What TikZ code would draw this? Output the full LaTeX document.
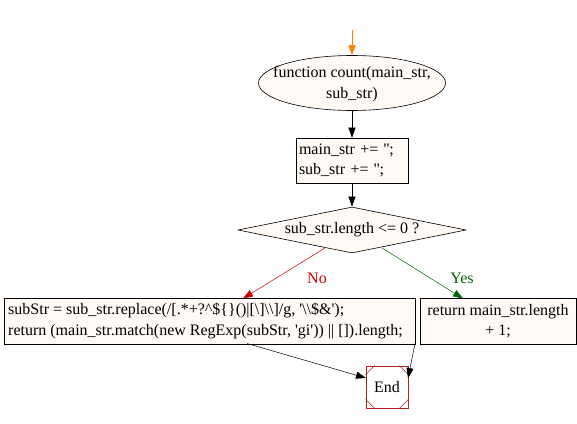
\documentclass[tikz,border=0pt]{standalone}
\usepackage{fontspec}
\setmainfont{Liberation Serif}[Ligatures=TeXOff]
\usetikzlibrary{shapes.geometric,arrows.meta,calc}
\definecolor{fillc}{HTML}{FFFAF5}
\definecolor{endc}{HTML}{B22222}
\definecolor{nored}{HTML}{CC0000}
\definecolor{yesgreen}{HTML}{006400}
\begin{document}
\begin{tikzpicture}[x=1pt,y=-1pt,
  every node/.style={font=\fontsize{16}{20.5}\selectfont, inner sep=0pt},
  arr/.style={-{Triangle[length=10pt,width=7pt]}, line width=0.5pt},
  boxst/.style={draw, fill=fillc, line width=0.6pt},
]
\useasboundingbox (0,0) rectangle (577,423);
\coordinate (start) at (352,30);
\node[boxst, ellipse, minimum width=187pt, minimum height=55pt] (fn) at (352,83) {};
\node[align=center] (fntxt) at (352,84) {function count(main\_str,\\sub\_str)};
\node[boxst, minimum width=112pt, minimum height=45pt, align=left, text width=106pt] (init) at (352,160.5) {main\_str += '';\\sub\_str += '';};
\node[boxst, diamond, aspect=5, minimum width=228pt, minimum height=46pt] (cond) at (352,230) {};
\node (condtxt) at (352,230) {sub\_str.length <= 0 ?};
\node[boxst, minimum width=411pt, minimum height=46pt] (no) at (209.5,321) {};
\node[align=left, anchor=west] (notxt) at (8,321) {subStr = sub\_str.replace(/[.*+?\^{}\$\{\}()|[\textbackslash]\textbackslash\textbackslash]/g, '\textbackslash\textbackslash\$\&');\\return (main\_str.match(new RegExp(subStr, 'gi')) || []).length;};
\node[boxst, minimum width=156pt, minimum height=46pt, align=center] (yes) at (498,321) {return main\_str.length\\+ 1;};
\node[draw=endc, fill=white, line width=0.8pt, minimum width=42pt, minimum height=42pt] (end) at (387,387) {End};
\draw[endc, line width=0.5pt] ($(end.north west)+(0,9)$) -- ($(end.north west)+(9,0)$)
  ($(end.north east)+(0,9)$) -- ($(end.north east)+(-9,0)$)
  ($(end.south west)+(0,-9)$) -- ($(end.south west)+(9,0)$)
  ($(end.south east)+(0,-9)$) -- ($(end.south east)+(-9,0)$);
\coordinate (nostart) at (325,248);
\coordinate (noend) at (243,298.5);
\coordinate (yesstart) at (382,248);
\coordinate (yesend) at (463,298.5);
\coordinate (le1) at (247,343.5);
\coordinate (le2) at (366,378);
\coordinate (re1) at (415,343.5);
\coordinate (re2) at (408,378);
\draw[draw=orange, line width=0.5pt, -{Triangle[length=10pt,width=7pt,fill=orange]}] (start) -- (fn.north);
\draw[arr] (fn.south) -- (init.north);
\draw[arr] (init.south) -- (cond.north);
\draw[draw=nored, line width=0.5pt, -{Triangle[length=10pt,width=7pt,fill=nored]}] (nostart) -- (noend);
\node[text=nored] (nolbl) at (317,278) {No};
\draw[draw=yesgreen, line width=0.5pt, -{Triangle[length=10pt,width=7pt,fill=yesgreen]}] (yesstart) -- (yesend);
\node[text=yesgreen] (yeslbl) at (462,278) {Yes};
\draw[arr] (le1) -- (le2);
\draw[arr] (re1) -- (re2);
\end{tikzpicture}
\end{document}
